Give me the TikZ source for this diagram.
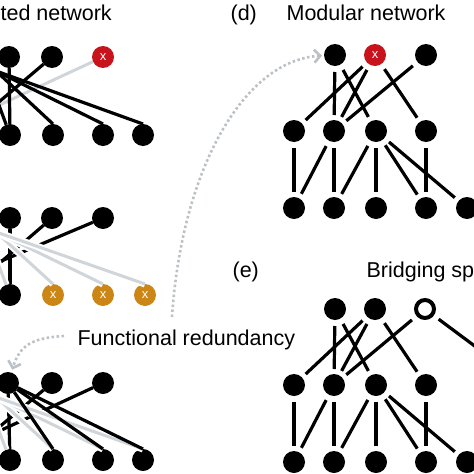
\documentclass[tikz,border=0pt]{standalone}
\usepackage{fontspec}
\setmainfont{Liberation Sans}
\usetikzlibrary{arrows.meta}

\definecolor{knockred}{RGB}{200,18,28}
\definecolor{lostgold}{RGB}{204,134,22}
\definecolor{deadgrey}{RGB}{208,213,218}
\definecolor{hintgrey}{RGB}{188,193,198}

\begin{document}
\begin{tikzpicture}[x=1pt, y=-1pt, line width=3.2pt]
        \tikzstyle{sp} = [circle, fill=black, minimum size=22pt, inner sep=0pt, outer sep=0pt]
        \tikzstyle{hit} = [sp, fill=knockred, text=white, font=\fontsize{13}{13}\selectfont]
        \tikzstyle{lost} = [sp, fill=lostgold, text=white, font=\fontsize{13}{13}\selectfont]
        \tikzstyle{hollow} = [circle, draw=black, fill=white, line width=4pt, minimum size=18pt, inner sep=0pt]
        \tikzstyle{link} = [draw, line width=3.2pt]
        \tikzstyle{gaplink} = [link, shorten <=6pt, shorten >=5pt]
        \tikzstyle{dead} = [draw=deadgrey, line width=3pt]
        \tikzstyle{cased} = [dead, preaction={draw=white, line width=7pt}]
        \tikzstyle{hint} = [draw=hintgrey, line width=2.6pt, dash pattern=on 2.5pt off 2.5pt, -{Straight Barb[length=6pt, width=13pt, line width=2.6pt]}]
        \tikzstyle{title} = [anchor=base west, inner sep=0pt, font=\fontsize{21.5}{24}\selectfont]

        \useasboundingbox (0,0) rectangle (474,474);
        \clip (0,0) rectangle (474,474);

        \node [sp] (at1) at (9,57) {};
        \node [sp, right of=at1, node distance=43pt] (at2) {};
        \node [hit, right of=at2, node distance=51pt] (at3) {x};
        \node [sp] (ab1) at (10,135) {};
        \node [sp, right of=ab1, node distance=43pt] (ab2) {};
        \node [sp, right of=ab2, node distance=50pt] (ab3) {};
        \node [sp, right of=ab3, node distance=40pt] (ab4) {};
        \coordinate (as) at (-4,71);
        \coordinate (aq) at (-10,81);
        \coordinate (ao) at (-20,118);
        \coordinate (ag) at (-20,114);

        \path [dead] (at3) -- (ag);
        \path [link] (as) -- (ab2.north);
        \path [link] (as) -- (ab3.north);
        \path [link] (as) -- (ab4.north);
        \path [link] (aq) -- (ab1);
        \path [link] (at1) -- (ab1);
        \path [link] (at2) -- (ao);

        \node [sp] (bt1) at (10,218) {};
        \node [sp, right of=bt1, node distance=42pt] (bt2) {};
        \node [sp, right of=bt2, node distance=51pt] (bt3) {};
        \node [sp] (bb1) at (10,295) {};
        \node [lost, right of=bb1, node distance=43pt] (bb2) {x};
        \node [lost, right of=bb2, node distance=50pt] (bb3) {x};
        \node [lost, right of=bb3, node distance=42pt] (bb4) {x};
        \coordinate (bs) at (-4,232);
        \coordinate (bq) at (-10,242);
        \coordinate (bo) at (-20,280);
        \coordinate (bg) at (-20,270);

        \path [link] (bt1) -- (bb1);
        \path [link] (bt2) -- (bo);
        \path [link] (bt3) -- (bg);
        \path [cased] (bs) -- (bb2.north);
        \path [cased] (bs) -- (bb3.north);
        \path [cased] (bs) -- (bb4.north);
        \path [cased] (bq) -- (bb1);

        \node [sp] (ct1) at (8,383) {};
        \node [sp, right of=ct1, node distance=44pt] (ct2) {};
        \node [sp, right of=ct2, node distance=51pt] (ct3) {};
        \node [sp] (cb1) at (10,460) {};
        \node [sp, right of=cb1, node distance=43pt] (cb2) {};
        \node [sp, right of=cb2, node distance=50pt] (cb3) {};
        \node [sp, right of=cb3, node distance=40pt] (cb4) {};
        \coordinate (cs) at (-4,397);
        \coordinate (cq) at (-10,407);
        \coordinate (co) at (-20,443);
        \coordinate (cg) at (-20,440);

        \path [link] (ct1) -- (cb1);
        \path [link] (ct2) -- (co);
        \path [link] (ct3) -- (cg);
        \path [cased] (cs) -- (cb2.north);
        \path [cased] (cs) -- (cb3.north);
        \path [cased] (cs) -- (cb4.north);
        \path [cased] (cq) -- (cb1);
        \path [link] (ct1) -- (cb2.north);
        \path [link] (ct1) -- (cb3.north);
        \path [link] (ct1) -- (cb4.north);

        \node [sp] (dt1) at (335,55) {};
        \node [hit, right of=dt1, node distance=40pt] (dt2) {x};
        \node [sp, right of=dt2, node distance=51pt] (dt3) {};
        \node [sp] (dm1) at (294,131) {};
        \node [sp, right of=dm1, node distance=40pt] (dm2) {};
        \node [sp, right of=dm2, node distance=42pt] (dm3) {};
        \node [sp, right of=dm3, node distance=50pt] (dm4) {};
        \node [sp] (db1) at (294,208) {};
        \node [sp, right of=db1, node distance=40pt] (db2) {};
        \node [sp, right of=db2, node distance=42pt] (db3) {};
        \node [sp, right of=db3, node distance=50pt] (db4) {};
        \node [sp, right of=db4, node distance=41pt] (db5) {};

        \path [gaplink] (dt1) -- (dm2);
        \path [gaplink] (dt1) -- (dm3);
        \path [gaplink] (dt2) -- (dm1);
        \path [gaplink] (dt2) -- (dm2);
        \path [gaplink] (dt2) -- (dm4);
        \path [gaplink] (dt3) -- (dm2);
        \path [gaplink] (dm1) -- (db1);
        \path [gaplink] (dm2) -- (db1);
        \path [gaplink] (dm2) -- (db2);
        \path [gaplink] (dm3) -- (db2);
        \path [gaplink] (dm3) -- (db3);
        \path [gaplink] (dm3) -- (db4);
        \path [gaplink] (dm3) -- (db5);
        \path [gaplink] (dm4) -- (db4);

        \node [sp] (et1) at (335,309) {};
        \node [sp, right of=et1, node distance=40pt] (et2) {};
        \node [hollow, right of=et2, node distance=50pt] (et3) {};
        \node [sp] (em1) at (294,385) {};
        \node [sp, right of=em1, node distance=40pt] (em2) {};
        \node [sp, right of=em2, node distance=42pt] (em3) {};
        \node [sp, right of=em3, node distance=50pt] (em4) {};
        \node [sp] (eb1) at (294,462) {};
        \node [sp, right of=eb1, node distance=40pt] (eb2) {};
        \node [sp, right of=eb2, node distance=42pt] (eb3) {};
        \node [sp, right of=eb3, node distance=50pt] (eb4) {};
        \node [sp, right of=eb4, node distance=41pt] (eb5) {};
        \coordinate (ex) at (527,385);

        \path [gaplink] (et1) -- (em2);
        \path [gaplink] (et1) -- (em3);
        \path [gaplink] (et2) -- (em1);
        \path [gaplink] (et2) -- (em2);
        \path [gaplink] (et2) -- (em4);
        \path [gaplink] (et3) -- (em2);
        \path [gaplink] (et3) -- (ex);
        \path [gaplink] (em1) -- (eb1);
        \path [gaplink] (em2) -- (eb1);
        \path [gaplink] (em2) -- (eb2);
        \path [gaplink] (em3) -- (eb2);
        \path [gaplink] (em3) -- (eb3);
        \path [gaplink] (em3) -- (eb4);
        \path [gaplink] (em3) -- (eb5);
        \path [gaplink] (em4) -- (eb4);

        \node [title] (ttla) at (-1,20) {ted network};
        \node [title] (lbld) at (229,20) {(d)};
        \node [title] (ttld) at (285,20) {Modular network};
        \node [title] (lble) at (231,277) {(e)};
        \node [title] (ttle) at (365,277) {Bridging sp};
        \node [title] (redund) at (76,345) {Functional redundancy};

        \coordinate (r1) at (172,317);
        \coordinate (r2) at (64,336);
        \path [hint, shorten >=2pt] (r1) .. controls +(10,-150) and +(-90,5) .. (dt1);
        \path [hint, shorten >=3pt] (r2) .. controls +(-32,2) and +(12,-38) .. (ct1);
    \end{tikzpicture}
\end{document}
